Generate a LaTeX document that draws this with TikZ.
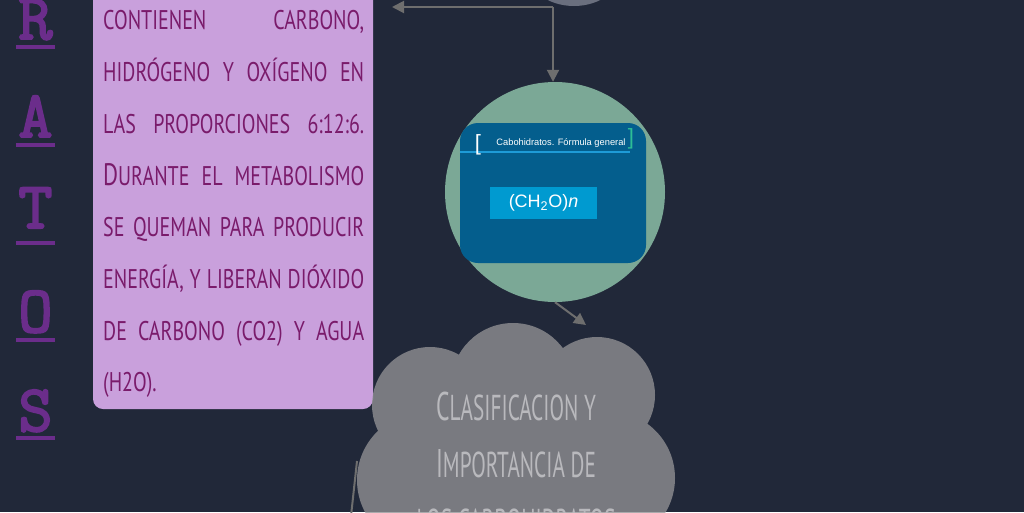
\documentclass[tikz,border=0pt]{standalone}
\usepackage{fontspec}
\setmainfont{Liberation Sans}
\newfontfamily\amatic[FakeStretch=0.74]{PT Sans}
\newfontfamily\amaticnube[FakeStretch=0.59]{PT Sans}
\newfontfamily\maquina[FakeBold=3]{Latin Modern Mono}
\usetikzlibrary{arrows.meta}
\definecolor{fondo}{HTML}{212839}
\definecolor{morado}{HTML}{6B2D8B}
\definecolor{lila}{HTML}{C9A0DC}
\definecolor{vino}{HTML}{7A1B6B}
\definecolor{gris}{HTML}{6E6E6E}
\definecolor{grisazul}{HTML}{6A6F7E}
\definecolor{verde}{HTML}{7BA896}
\definecolor{azul}{HTML}{045E8D}
\definecolor{celeste}{HTML}{1E9BD7}
\definecolor{cian}{HTML}{009AD0}
\definecolor{turquesa}{HTML}{2DBE96}
\definecolor{nube}{HTML}{929295}
\definecolor{nubeletra}{HTML}{B9B9BD}
\newcommand{\mayus}[2]{{\fontsize{#1}{#1}\selectfont #2}}

\begin{document}
\begin{tikzpicture}[
    x=1pt, y=-1pt,
    flecha/.style={line width=2pt,draw=gris,-{Triangle[length=12pt,width=12pt]}},
    letra/.style={font=\maquina\fontsize{66}{66}\selectfont,text=morado,anchor=base,inner sep=0pt},
    deftxt/.style={font=\amatic\fontsize{27}{27}\selectfont,text=vino,anchor=base west,inner sep=0pt},
    nubetxt/.style={font=\amaticnube\fontsize{36}{36}\selectfont,text=nubeletra,anchor=base,inner sep=0pt}
    ]
    \fill[fondo] (0,0) rectangle (1024,512);
    \clip (0,0) rectangle (1024,512);
    % letras de la izquierda
    \foreach \l/\b/\u in {R/39/47, A/137/145, T/228/243, O/332/340, S/431/438} {
      \node[letra] (letra-\l) at (35.5,\b) {\l};
      \draw[line width=4.5pt,morado] (16,\u) -- (55,\u);
    }
    % caja de la definicion
    \fill[lila,rounded corners=10pt] (93,-30) rectangle (373,409);
    \foreach \y/\txt [count=\i] in {29/{CONTIENEN CARBONO,}, 81/{HIDRÓGENO Y OXÍGENO EN},
        133/{LAS PROPORCIONES 6:12:6.}, 185/{\mayus{31}{D}URANTE EL METABOLISMO},
        236/{SE QUEMAN PARA PRODUCIR}, 288/{ENERGÍA, Y LIBERAN DIÓXIDO},
        340/{DE CARBONO (CO2) Y AGUA}}
      \node[deftxt] (linea-\i) at (103,\y) {\makebox[261pt][s]{\txt}};
    \node[deftxt] (linea-8) at (103,391) {(H2O).};
    % circulo de arriba y flechas
    \node[circle,fill=grisazul,minimum size=122pt,inner sep=0pt] (tema) at (574,-55) {};
    \coordinate (cruce) at (553,7);
    \coordinate (fin) at (392,7);
    \node[circle,fill=verde,minimum size=220pt,inner sep=0pt] (formula) at (555,192) {};
    \draw[flecha] (cruce) -- (fin);
    \draw[flecha] (cruce) -- (cruce |- formula.north);
    % formula general
    \node[fill=azul,rounded corners=18pt,minimum width=186pt,minimum height=140pt,inner sep=0pt] (caja) at (553,193) {};
    \coordinate (borde) at (630,152);
    \draw[line width=2pt,celeste] (caja.west |- borde) -- (borde);
    \node[font=\fontsize{9.3}{9.3}\selectfont,text=white,inner sep=0pt] (titulo) at (561,143) {Cabohidratos. Fórmula general};
    \node[font=\fontsize{22}{22}\selectfont,text=white,inner sep=0pt] (abre) at (478,145) {[};
    \node[font=\fontsize{22}{22}\selectfont,text=turquesa,inner sep=0pt] (cierra) at (631,139) {]};
    \node[fill=cian,minimum width=107pt,minimum height=32pt,inner sep=0pt,
      font=\fontsize{18}{18}\selectfont,text=white] (ch2o) at (543.5,203) {(CH\textsubscript{2}O)\textit{n}};
    % nube
    \coordinate (punta) at (586,325);
    \draw[flecha] (formula.south) -- (punta);
    \begin{scope}[transparency group,opacity=0.78]
      \fill[nube] (430,405) circle[radius=58];
      \fill[nube] (513,385) circle[radius=62];
      \fill[nube] (597,395) circle[radius=58];
      \fill[nube] (608,478) circle[radius=67];
      \fill[nube] (425,480) circle[radius=68];
      \fill[nube] (515,470) circle[radius=95];
    \end{scope}
    \node[nubetxt] (nube-1) at (516,420) {\mayus{40}{C}LASIFICACION Y};
    \node[nubetxt] (nube-2) at (516,477) {\mayus{40}{I}MPORTANCIA DE};
    \node[nubetxt] (nube-3) at (516,534) {LOS CARBOHIDRATOS};
    \coordinate (raya-a) at (357,461);
    \coordinate (raya-b) at (351,516);
    \draw[line width=2pt,gris] (raya-a) -- (raya-b);
  \end{tikzpicture}
\end{document}
